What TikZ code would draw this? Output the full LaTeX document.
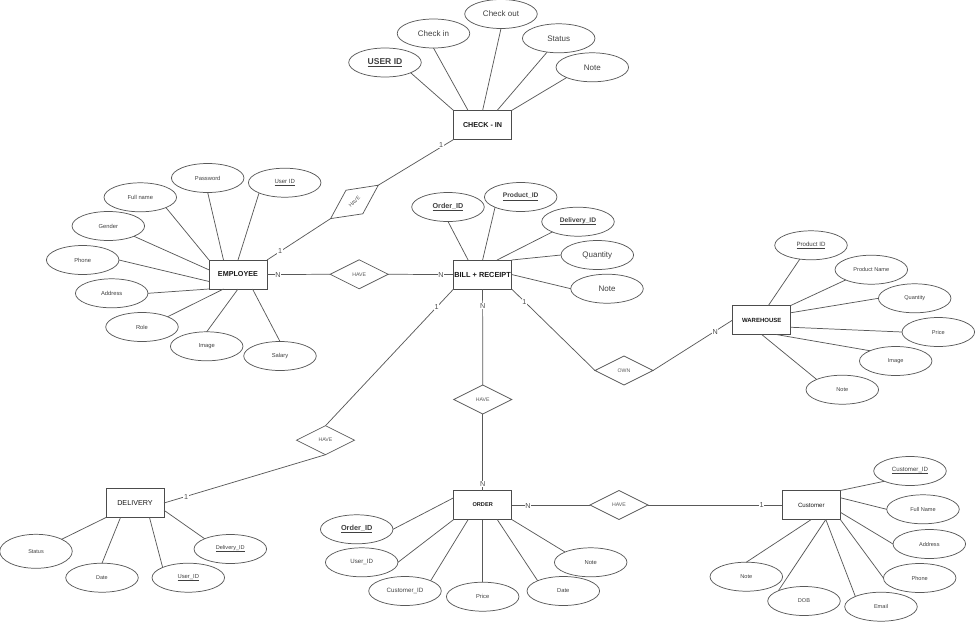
\documentclass[tikz,border=0pt]{standalone}
\usepackage{fontspec}
\setmainfont{Liberation Sans}
\usetikzlibrary{shapes.geometric,calc}
\tikzset{
  fpx/.style={font=\fontsize{#1}{#1}\selectfont},
  fbx/.style={font=\fontsize{#1}{#1}\selectfont\bfseries},
  attr/.style={ellipse,draw=black!65,line width=.55pt,fill=white,text=black!75,inner sep=0pt,outer sep=0pt,minimum width=54.4pt,minimum height=21.75pt},
  ent/.style={rectangle,draw=black!70,line width=.6pt,fill=white,text=black!90,inner sep=0pt,outer sep=0pt,minimum width=43.5pt,minimum height=21.75pt},
  rel/.style={diamond,shape aspect=2,draw=black!65,line width=.55pt,fill=white,text=black!65,inner sep=0pt,outer sep=0pt,minimum width=43.5pt,minimum height=21.75pt,fpx=3.9},
  lnk/.style={draw=black!65,line width=.55pt},
  card/.style={fill=white,inner sep=.4pt,text=black!70,fpx=5.4},
}
\newcommand{\ulx}[1]{\underline{\smash{#1}}\vphantom{H}}
\newcommand{\entity}[5]{%
  \node[ent,#5] (#1) at (#2,#3) {#4};
  \coordinate (#1-n1) at ($(#1.north west)!.25!(#1.north east)$);
  \coordinate (#1-n3) at ($(#1.north west)!.75!(#1.north east)$);
  \coordinate (#1-s1) at ($(#1.south west)!.25!(#1.south east)$);
  \coordinate (#1-s3) at ($(#1.south west)!.75!(#1.south east)$);
  \coordinate (#1-w1) at ($(#1.north west)!.25!(#1.south west)$);
  \coordinate (#1-w3) at ($(#1.north west)!.75!(#1.south west)$);
  \coordinate (#1-e1) at ($(#1.north east)!.25!(#1.south east)$);
  \coordinate (#1-e3) at ($(#1.north east)!.75!(#1.south east)$);
}
\begin{document}
\begin{tikzpicture}[x=.75pt,y=-.75pt]
\useasboundingbox (0,0) rectangle (975,622);
% entities
\entity{chk}{482.6}{125}{CHECK - IN}{fbx=5.4}
\entity{emp}{238}{274.5}{EMPLOYEE}{fbx=5.4}
\entity{bil}{482.6}{274.5}{BILL + RECEIPT}{fbx=5.5}
\entity{wh}{761.7}{320}{WAREHOUSE}{fbx=4.5}
\entity{del}{135}{503}{DELIVERY}{fpx=5.4}
\entity{ord}{482.7}{505}{ORDER}{fbx=4.2}
\entity{cus}{811.3}{505}{Customer}{fpx=4.6}
% check-in attributes
\node[attr,fbx=6.4] (c1) at (385,62.5) {\ulx{USER ID}};
\node[attr,fpx=6] (c2) at (433.5,33.5) {Check in};
\node[attr,fpx=6] (c3) at (501,14) {Check out};
\node[attr,fpx=6] (c4) at (558.7,38.3) {Status};
\node[attr,fpx=6] (c5) at (592.3,67.3) {Note};
\draw[lnk] (c1.south east) -- (chk.north west);
\draw[lnk] (c2.south) -- (chk-n1);
\draw[lnk] (c3.south) -- (chk.north);
\draw[lnk] (c4.230) -- (chk-n3);
\draw[lnk] (c5.south west) -- (chk.north east);
% employee attributes
\node[attr,fpx=4.35] (e1) at (207.7,178) {Password};
\node[attr,fpx=4.5] (e2) at (284.7,182.7) {\ulx{User ID}};
\node[attr,fpx=4.35] (e3) at (140.3,197.3) {Full name};
\node[attr,fpx=4.35] (e4) at (108.3,226) {Gender};
\node[attr,fpx=4.35] (e5) at (82.7,260) {Phone};
\node[attr,fpx=4.35] (e6) at (111.7,293.3) {Address};
\node[attr,fpx=4.35] (e7) at (142,327) {Role};
\node[attr,fpx=4.35] (e8) at (206.7,346.3) {Image};
\node[attr,fpx=4.35] (e9) at (280,356) {Salary};
\coordinate (emp-wa) at ($(emp.north west)!.34!(emp.south west)$);
\coordinate (emp-wb) at ($(emp.north west)!.74!(emp.south west)$);
\draw[lnk] (e1.south) -- (emp-n1);
\draw[lnk] (e2.south west) -- (emp.north);
\draw[lnk] (e3.south east) -- (emp.north west);
\draw[lnk] (e4.south east) -- (emp-wa);
\draw[lnk] (e5.east) -- (emp-wb);
\draw[lnk] (e6.east) -- (emp.south west);
\draw[lnk] (e7.north east) -- (emp-s1);
\draw[lnk] (e8.north) -- (emp.south);
\draw[lnk] (e9.north) -- (emp-s3);
% bill attributes
\node[attr,fbx=5.4] (b1) at (448,207) {\ulx{Order\_ID}};
\node[attr,fbx=5] (b2) at (520.7,197) {\ulx{Product\_ID}};
\node[attr,fbx=5] (b3) at (578,221.7) {\ulx{Delivery\_ID}};
\node[attr,fpx=6] (b4) at (597.3,255) {Quantity};
\node[attr,fpx=6] (b5) at (607,288.7) {Note};
\draw[lnk] (b1.south) -- (bil-n1);
\draw[lnk] (b2.south west) -- (bil.north);
\draw[lnk] (b3.south west) -- (bil-n3);
\draw[lnk] (b4.west) -- (bil.north east);
\draw[lnk] (b5.west) -- (bil.east);
% warehouse attributes
\node[attr,fpx=4.6] (w1) at (811,245.3) {\ulx{Product ID}};
\node[attr,fpx=4.2] (w2) at (871.3,269.7) {Product Name};
\node[attr,fpx=4.2] (w3) at (914.7,298.3) {Quantity};
\node[attr,fpx=4.2] (w4) at (938.3,332) {Price};
\node[attr,fpx=4.2] (w5) at (895.7,361) {Image};
\node[attr,fpx=4.2] (w6) at (842.3,389.7) {Note};
\coordinate (wh-na) at ($(wh.north west)!.615!(wh.north east)$);
\draw[lnk] (w1.231) -- (wh-na);
\draw[lnk] (w2.south west) -- (wh.north east);
\draw[lnk] (w3.west) -- (wh-e1);
\draw[lnk] (w4.west) -- (wh-e3);
\draw[lnk] (w5.north west) -- (wh-s3);
\draw[lnk] (w6.north west) -- (wh.south);
% delivery attributes
\node[attr,fpx=4.1,minimum height=25.5pt] (d1) at (36,551.3) {Status};
\node[attr,fpx=4.1] (d2) at (102,577.7) {Date};
\node[attr,fpx=4.4] (d3) at (188.3,577.7) {\ulx{User\_ID}};
\node[attr,fpx=4.2] (d4) at (230.3,549) {\ulx{Delivery\_ID}};
\draw[lnk] (d1.north east) -- (del.south west);
\draw[lnk] (d2.north) -- (del-s1);
\draw[lnk] (d3.north west) -- (del-s3);
\draw[lnk] (d4.north west) -- (del-e3);
% order attributes
\node[attr,fbx=5.5] (o1) at (356.7,529.3) {\ulx{Order\_ID}};
\node[attr,fpx=4.6] (o2) at (361.7,562.3) {User\_ID};
\node[attr,fpx=4.65] (o3) at (405,591) {Customer\_ID};
\node[attr,fpx=4.35] (o4) at (482.7,596.7) {Price};
\node[attr,fpx=4.35] (o5) at (563.3,591) {Date};
\node[attr,fpx=4.35] (o6) at (590.7,562.3) {Note};
\draw[lnk] (o1.east) -- (ord-w1);
\draw[lnk] (o2.east) -- (ord.south west);
\draw[lnk] (o3.north east) -- (ord-s1);
\draw[lnk] (o4.north) -- (ord.south);
\draw[lnk] (o5.north west) -- (ord-s3);
\draw[lnk] (o6.north west) -- (ord.south east);
% customer attributes
\node[attr,fpx=4.6] (u1) at (910,471) {\ulx{Customer\_ID}};
\node[attr,fpx=4.2] (u2) at (923,509.3) {Full Name};
\node[attr,fpx=4.2] (u3) at (929.3,544) {Address};
\node[attr,fpx=4.2] (u4) at (919.7,578) {Phone};
\node[attr,fpx=4.2] (u5) at (881,606.7) {Email};
\node[attr,fpx=4.2] (u6) at (804,601) {DOB};
\node[attr,fpx=4.2] (u7) at (746.3,576.7) {Note};
\draw[lnk] (u1.south west) -- (cus.north east);
\draw[lnk] (u2.west) -- (cus-e1);
\draw[lnk] (u3.west) -- (cus-e3);
\draw[lnk] (u4.west) -- (cus.south east);
\draw[lnk] (u5.north west) -- (cus-s3);
\draw[lnk] (u6.north west) -- (cus-s3);
\draw[lnk] (u7.north) -- (cus.south);
% relationships
\node[rel] (r2) at (359.2,274.3) {HAVE};
\node[rel] (r3) at (482.7,399.5) {HAVE};
\node[rel] (r4) at (325.5,440.2) {HAVE};
\node[rel] (r5) at (619,505) {HAVE};
\node[rel] (r6) at (624,370.5) {OWN};
% sheared relationship between employee and check-in
\coordinate (r1a) at (346,190.2);
\coordinate (r1b) at (378.3,185.2);
\coordinate (r1c) at (362.8,213.8);
\coordinate (r1d) at (330.6,218.6);
\draw[lnk] (r1a) -- (r1b) -- (r1c) -- (r1d) -- cycle;
\node[rotate=45,text=black!65,fpx=3.9,inner sep=0pt] (r1) at (354.5,201.8) {HAVE};
% connectors
\draw[lnk] (emp.north east) -- (r1d);
\draw[lnk] (r1b) -- (chk.south west);
\draw[lnk] (emp.east) -- (r2.west);
\draw[lnk] (r2.east) -- (bil.west);
\draw[lnk] (bil.south) -- (r3.north);
\draw[lnk] (r3.south) -- (ord.north);
\draw[lnk] (bil.south west) -- (r4.north);
\draw[lnk] (r4.south) -- (del.east);
\draw[lnk] (ord.east) -- (r5.west);
\draw[lnk] (r5.east) -- (cus.west);
\draw[lnk] (bil.south east) -- (r6.west);
\draw[lnk] (r6.east) -- (wh.west);
% cardinalities
\node[card] (k1) at (441,145) {1};
\node[card] (k2) at (280,250.7) {1};
\node[card] (k3) at (278,275) {N};
\node[card] (k4) at (441,275) {N};
\node[card] (k5) at (436.7,306.7) {1};
\node[card] (k6) at (482.7,306) {N};
\node[card] (k7) at (524.3,301.7) {1};
\node[card] (k8) at (715.3,332.3) {N};
\node[card] (k9) at (186,497) {1};
\node[card] (k10) at (482.7,484) {N};
\node[card] (k11) at (528,505.7) {N};
\node[card] (k12) at (761.7,505) {1};
\end{tikzpicture}
\end{document}
